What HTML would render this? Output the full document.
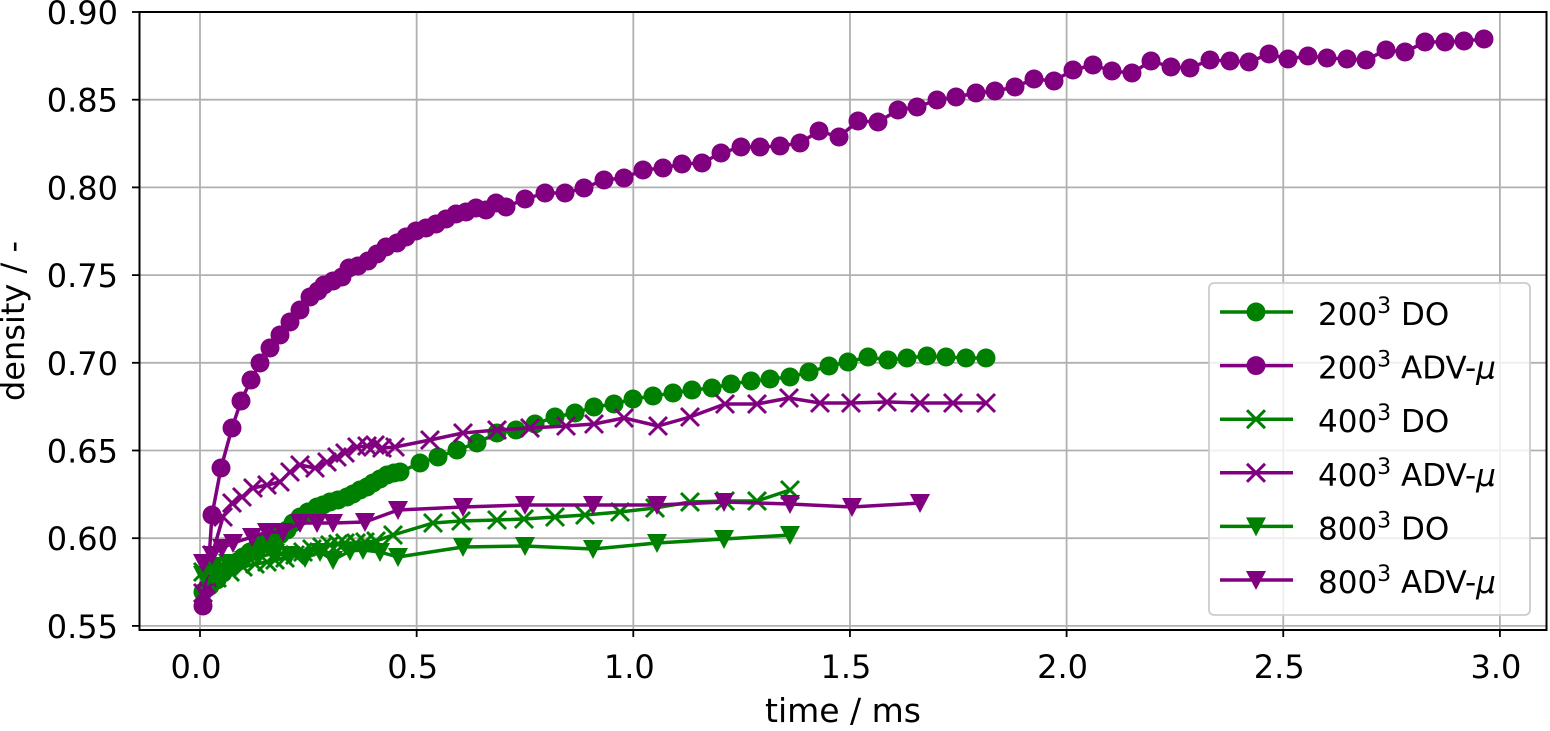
<!DOCTYPE html>
<html><head><meta charset="utf-8"><style>
html,body{margin:0;padding:0;background:#fff;}
svg text{font-family:"DejaVu Sans","Liberation Sans",sans-serif;fill:#000;}
</style></head><body>
<svg id="s" width="1550" height="726" xmlns="http://www.w3.org/2000/svg">
<rect x="0" y="0" width="1550" height="726" fill="#fff"/>
<g id="grid"></g>
<g id="data"></g>
<rect x="139.5" y="12" width="1407" height="618" fill="none" stroke="#000" stroke-width="2"/>
<g id="ticks"></g>
<text x="24" y="321" font-size="32" text-anchor="middle" transform="rotate(-90 24 321)">density / -</text>
<text x="843" y="722" font-size="33" text-anchor="middle">time / ms</text>
<g id="legend"></g>
</svg>
<script>
const NS="http://www.w3.org/2000/svg";
function el(p,t,a,txt){const e=document.createElementNS(NS,t);for(const k in a)e.setAttribute(k,a[k]);if(txt!==undefined)e.textContent=txt;p.appendChild(e);return e;}
const X=t=>200+433.3*t, Y=v=>12+(0.9-v)*1754;
const grid=document.getElementById('grid'),ticks=document.getElementById('ticks');
for(let i=0;i<=6;i++){const t=i*0.5,x=X(t);
 el(grid,'line',{x1:x,x2:x,y1:12,y2:630,stroke:'#b0b0b0','stroke-width':1.8});
 el(ticks,'line',{x1:x,x2:x,y1:630,y2:637,stroke:'#000','stroke-width':1.8});
 el(ticks,'text',{x:x-4,y:678,'font-size':32,'text-anchor':'middle'},t.toFixed(1));}
for(let i=0;i<=7;i++){const v=0.55+i*0.05,y=Y(v);
 el(grid,'line',{x1:139.5,x2:1546.5,y1:y,y2:y,stroke:'#b0b0b0','stroke-width':1.8});
 el(ticks,'line',{x1:132,x2:139.5,y1:y,y2:y,stroke:'#000','stroke-width':1.8});
 el(ticks,'text',{x:118,y:y+12,'font-size':32,'text-anchor':'end'},v.toFixed(2));}
const G='#008000',P='#800080';
function parse(s){const a=s.trim().split(/\s+/).map(Number);const r=[];for(let i=0;i<a.length;i+=2)r.push([a[i],a[i+1]]);return r;}
const series=[
 {c:G,m:'o',p:parse(`203 592 210 586 217 580 223 573 230 567 237 562 243 557 250 552 257 547 265 543 273 540 280 535 287 530 293 523 300 517 308 512 317 507 323 505 330 502 338 500 347 497 353 494 360 490 367 487 373 483 380 479 387 475 394 473 400 472 420 463 438 457 457 450 477 443 497 433 516 430 535 424 555 417 575 413 594 407 614 404 633 399 653 396 673 393 692 390 712 388 731 384 751 381 770 379 790 377 809 372 829 366 848 362 868 357 888 360 907 358 927 356 946 357 966 358 986 358`)},
 {c:P,m:'o',p:parse(`203 606 207 588 212 515 221 468 232 428 241 401 251 380 260 363 270 348 280 335 290 322 300 310 310 297 318 291 324 285 333 281 342 277 349 268 358 266 368 261 377 254 386 247 397 243 406 237 416 231 426 228 436 224 446 219 456 214 466 212 476 208 486 210 496 203 506 207 525 199 545 193 565 193 584 188 604 180 624 178 643 170 663 168 682 164 702 163 721 153 741 147 760 147 780 146 800 143 819 131 839 137 858 121 878 122 898 110 917 107 937 100 956 97 976 93 995 91 1015 87 1034 79 1054 81 1073 70 1093 65 1112 71 1132 73 1151 61 1171 67 1190 68 1210 60 1230 61 1249 62 1269 54 1288 59 1308 56 1327 58 1347 59 1366 60 1386 50 1405 52 1425 42 1445 42 1464 41 1484 39`)},
 {c:G,m:'x',p:parse(`203 572 208 582 217 578 230 572 243 567 255 564 267 562 275 560 285 558 295 555 303 552 312 549 322 547 330 545 338 544 345 543 356 543 365 542 376 541 393 535 433 523 461 521 497 520 524 519 555 517 585 515 620 512 655 508 690 502 725 501 757 501 790 490`)},
 {c:P,m:'x',p:parse(`203 593 212 555 223 517 232 503 242 497 253 488 267 485 280 482 290 472 300 465 315 468 327 462 337 457 345 453 357 447 367 446 375 445 382 448 395 447 430 440 463 433 497 430 530 428 566 426 594 424 624 418 658 426 690 417 725 404 757 404 789 398 820 403 851 403 887 402 920 403 953 403 986 403`)},
 {c:G,m:'v',p:parse(`203 575 214 566 228 563 244 560 258 557 275 553 290 555 305 558 320 552 333 560 350 551 363 550 380 552 398 557 463 547 525 546 593 549 657 543 724 539 790 535`)},
 {c:P,m:'v',p:parse(`203 563 212 555 222 548 233 543 252 537 267 532 283 532 300 523 317 523 333 523 365 522 398 510 463 507 525 505 593 505 657 505 724 502 790 504 852 507 920 503`)}
];
function marker(g,m,x,y,c){
 if(m==='o')el(g,'circle',{cx:x,cy:y,r:9.5,fill:c});
 else if(m==='x'){const d=9;el(g,'path',{d:`M${x-d} ${y-d}L${x+d} ${y+d}M${x-d} ${y+d}L${x+d} ${y-d}`,stroke:c,'stroke-width':3,fill:'none'});}
 else el(g,'path',{d:`M${x-10} ${y-9}L${x+10} ${y-9}L${x} ${y+10}Z`,fill:c});
}
const data=document.getElementById('data');
for(const s of series){
 el(data,'polyline',{points:s.p.map(q=>q.join(',')).join(' '),fill:'none',stroke:s.c,'stroke-width':3.5,'stroke-linejoin':'round'});
 for(const q of s.p)marker(data,s.m,q[0],q[1],s.c);
}
const lg=document.getElementById('legend');
el(lg,'rect',{x:1209,y:283,width:321,height:332,rx:5,fill:'#fff','fill-opacity':0.8,stroke:'#cccccc','stroke-width':1.8});
const labs=[['200','DO',G,'o'],['200','ADV-',P,'o'],['400','DO',G,'x'],['400','ADV-',P,'x'],['800','DO',G,'v'],['800','ADV-',P,'v']];
labs.forEach((l,i)=>{const y=312+i*53.6;
 el(lg,'line',{x1:1220,x2:1293,y1:y,y2:y,stroke:l[2],'stroke-width':3.5});
 marker(lg,l[3],1256,y,l[2]);
 const t=el(lg,'text',{x:1318,y:y+13,'font-size':31});
 el(t,'tspan',{},l[0]);el(t,'tspan',{dy:-12,'font-size':22},'3');
 el(t,'tspan',{dy:12},' '+l[1]);
 if(l[1]!=='DO')el(t,'tspan',{'font-style':'italic'},'μ');
});
</script>
</body></html>
